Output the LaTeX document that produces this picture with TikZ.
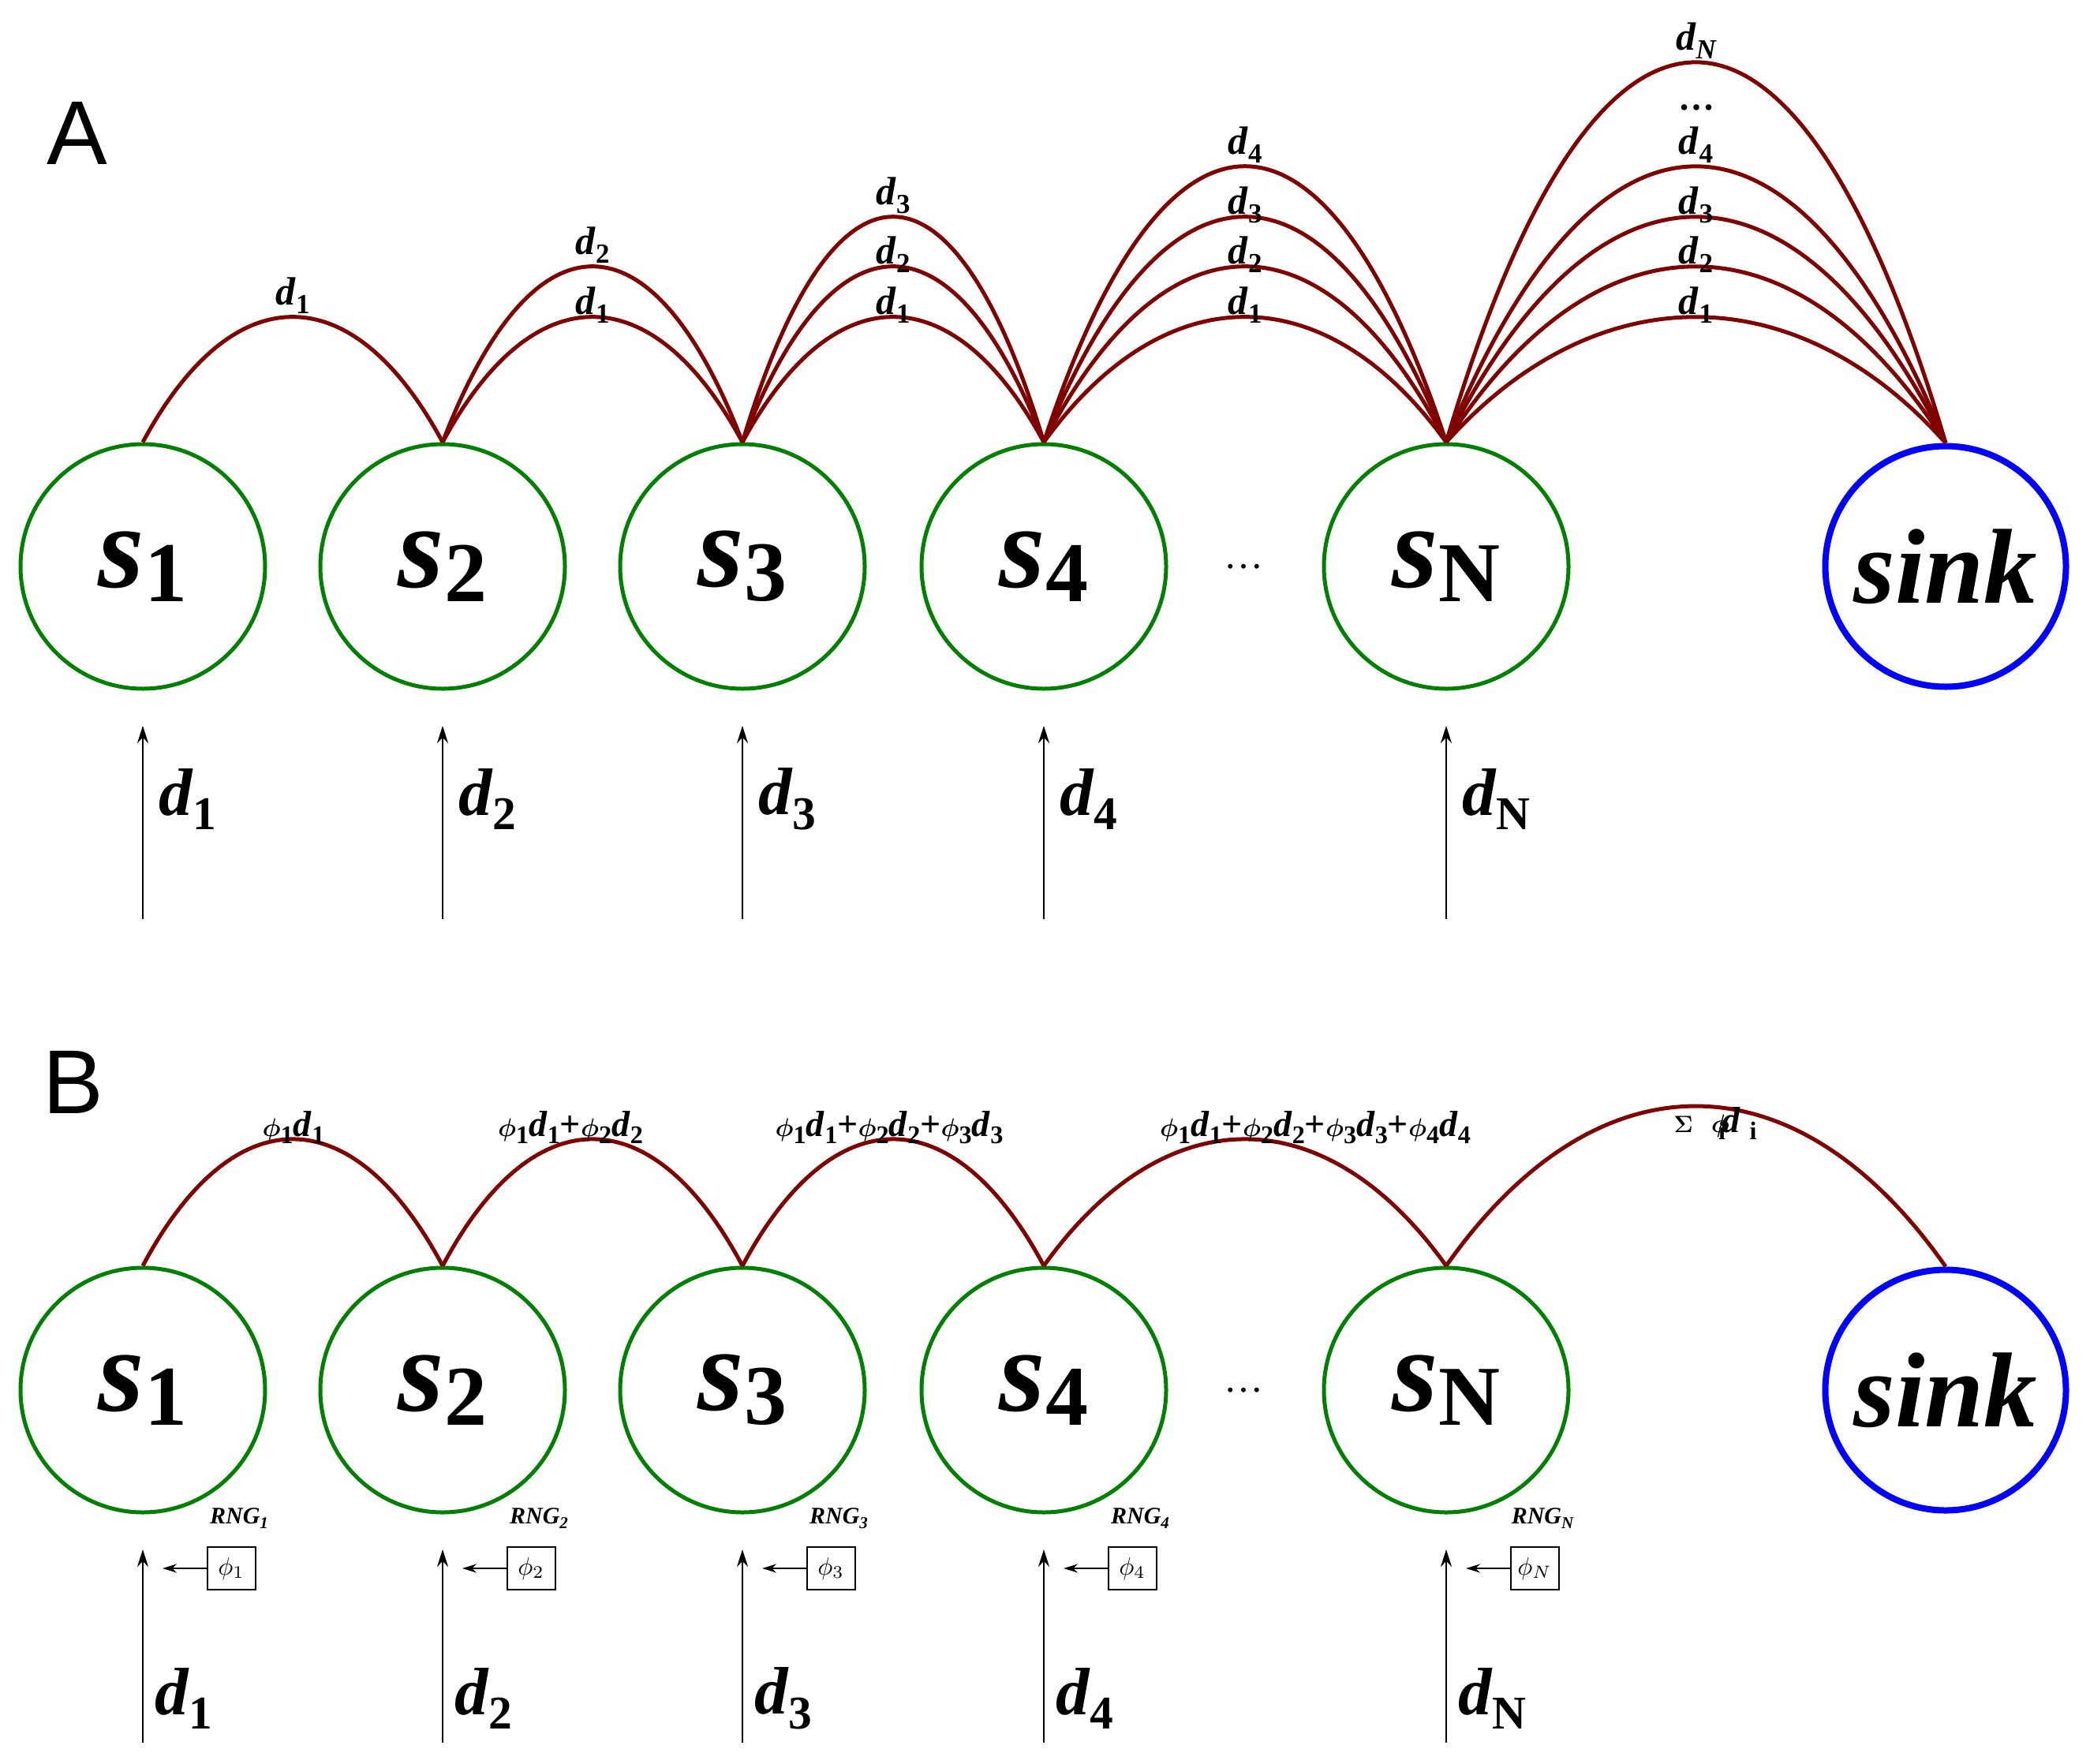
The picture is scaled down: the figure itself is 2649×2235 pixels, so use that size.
\documentclass[tikz,border=0pt]{standalone}
\usepackage{amsmath}
\usepackage{fontspec}
\setmainfont{Liberation Serif}
\newfontfamily\sansf{Liberation Sans}
\usetikzlibrary{arrows.meta}
\newcommand\lbl[2]{\textbf{\textit{#1}}\raisebox{-0.22em}{\scalebox{0.7}{\textbf{#2}}}}
\newcommand\lbi[2]{\textbf{\textit{#1}}\raisebox{-0.22em}{\scalebox{0.7}{\textbf{\textit{#2}}}}}
\newcommand\pd[1]{\scalebox{1.3}{$\boldsymbol{\phi}$}\raisebox{-0.2em}{\scalebox{0.7}{#1}}\textbf{\textit{d}}\raisebox{-0.2em}{\scalebox{0.7}{#1}}}
\begin{document}
\begin{tikzpicture}[x=1pt,y=-1pt,
  sn/.style={circle,draw=green!50!black,line width=5pt,minimum size=310pt,inner sep=0pt,font=\fontsize{150}{150}\selectfont\bfseries\itshape},
  sk/.style={sn,draw=blue,line width=8pt,minimum size=305pt,font=\fontsize{135}{135}\selectfont\bfseries\itshape},
  arc/.style={draw={rgb,255:red,128;green,0;blue,0},line width=5pt},
  al/.style={font=\fontsize{50}{50}\selectfont,inner sep=0pt,anchor=south},
  bl/.style={font=\fontsize{46}{46}\selectfont\bfseries,inner sep=0pt,anchor=south},
  dl/.style={font=\fontsize{85}{85}\selectfont,anchor=west,inner sep=0pt},
  inp/.style={draw,line width=2pt,-{Stealth[length=22pt,width=14pt]}},
  rng/.style={font=\fontsize{30}{30}\selectfont\bfseries\itshape,inner sep=0pt},
  pb/.style={draw,line width=2pt,minimum width=61pt,minimum height=54pt,inner sep=0pt},
  lt/.style={font=\fontsize{115}{115}\selectfont\sansf,inner sep=0pt}]
\useasboundingbox (0,0) rectangle (2649,2235);
\node[lt] (LA) at (98,169) {A};
\node[lt] (LB) at (93,1372) {B};
\foreach \i/\x/\s in {1/181/1,2/561/2,3/941/3,4/1323/4,N/1833/N}{
  \node[sn] (a\i) at (\x,718) {s\raisebox{-0.12em}{\scalebox{0.72}{\upshape \s}}};
  \coordinate (ia\i) at (\x,1165);
  \draw[inp] (ia\i) -- (\x,920);
  \node[dl] (da\i) at (\x+20,1013) {\lbl{d}{\s}};
  \node[sn] (b\i) at (\x,1762) {s\raisebox{-0.12em}{\scalebox{0.72}{\upshape \s}}};
  \coordinate (ib\i) at (\x,2209);
  \draw[inp] (ib\i) -- (\x,1964);
  \node[dl] (db\i) at (\x+15,2153) {\lbl{d}{\s}};
  \node[rng] (r\i) at (\x+122,1925) {RNG\raisebox{-0.2em}{\scalebox{0.7}{\s}}};
  \node[pb] (p\i) at (\x+112,1988) {\scalebox{3.2}{$\phi_{\s}$}};
  \draw[line width=2pt,-{Stealth[length=18pt,width=11pt]}] (p\i.west) -- (\x+25,1988);
}
\node[sk] (as) at (2466,718) {sink};
\node[sk] (bs) at (2466,1762) {sink};
\node[font=\fontsize{50}{50}\selectfont] (dots1) at (1576,718) {\ldots};
\node[font=\fontsize{50}{50}\selectfont] (dots2) at (1576,1762) {\ldots};
% arcs A
\foreach \a/\b/\xa/\xb/\n in {a1/a2/181/561/1,a2/a3/561/941/2,a3/a4/941/1323/3,a4/aN/1323/1833/4,aN/as/1833/2466/4}{
  \foreach \k/\h in {1/160,2/224,3/287,4/351}{
    \ifnum\k>\n\else
    \draw[arc] (\a.north) .. controls ({\xa+0.3*(\xb-\xa)},{562-1.333*\h}) and ({\xb-0.3*(\xb-\xa)},{562-1.333*\h}) .. (\b.north);
    \ifnum\k=\n
      \node[al] (la\a\k) at ({(\xa+\xb)/2},{562-\h-4}) {\lbl{d}{\k}};
    \else
      \node[al] (la\a\k) at ({(\xa+\xb)/2},{562-\h+8}) {\lbl{d}{\k}};
    \fi
    \fi
  }
}
\draw[arc] (aN.north) .. controls ({1833+0.3*633},{562-1.333*483}) and ({2466-0.3*633},{562-1.333*483}) .. (as.north);
\node[al] (laN) at (2150,75) {\lbi{d}{N}};
\node[al,font=\fontsize{46}{46}\selectfont\bfseries] (ldots) at (2150,140) {\ldots};
% arcs B
\foreach \a/\b/\xa/\xb/\h in {b1/b2/181/561/161,b2/b3/561/941/161,b3/b4/941/1323/161,b4/bN/1323/1833/161,bN/bs/1833/2466/203}{
  \draw[arc] (\a.north) .. controls ({\xa+0.3*(\xb-\xa)},{1605-1.333*\h}) and ({\xb-0.3*(\xb-\xa)},{1605-1.333*\h}) .. (\b.north);
}
\node[bl] (l1) at (372,1450) {\pd{1}};
\node[bl] (l2) at (723,1450) {\pd{1}+\pd{2}};
\node[bl] (l3) at (1127,1450) {\pd{1}+\pd{2}+\pd{3}};
\node[bl] (l4) at (1667,1450) {\pd{1}+\pd{2}+\pd{3}+\pd{4}};
\node[bl] (l5) at (2174,1445) {\scalebox{1.2}{$\boldsymbol{\Sigma}$}\ \ \scalebox{1.3}{$\boldsymbol{\phi}$}\hspace{-0.3em}\raisebox{-0.2em}{\scalebox{0.7}{i}}\hspace{-0.1em}\textit{d}\ \raisebox{-0.2em}{\scalebox{0.7}{i}}};
\end{tikzpicture}
\end{document}
